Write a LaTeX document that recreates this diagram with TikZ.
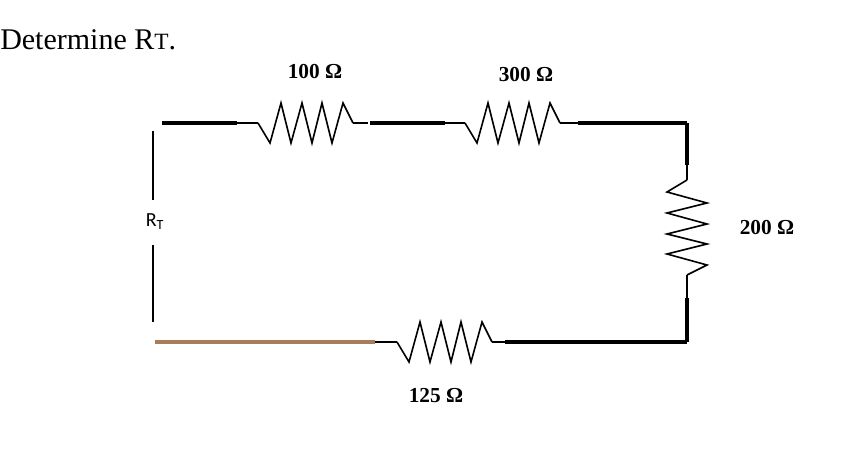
\documentclass[tikz,border=0pt]{standalone}
\usepackage{fontspec}
\setmainfont{Liberation Serif}
\newfontfamily\calfont{Carlito}
\tikzset{
 thick wire/.style={line width=3.2pt},
 thin wire/.style={line width=1.2pt},
 zig/.style={line width=1.2pt,line join=miter},
 val/.style={font=\bfseries\fontsize{16}{18}\selectfont}
}
\newcommand{\hres}[1]{\draw[zig] (#1) -- ++(12,20) -- ++(11,-40) -- ++(10,40) -- ++(11,-40) -- ++(10,40) -- ++(10,-40) -- ++(10,40) -- ++(11,-40) -- ++(10,20);}
\begin{document}
\begin{tikzpicture}[x=0.75pt,y=-0.75pt]
\useasboundingbox (0,0) rectangle (850,452);
\node[anchor=west,font=\fontsize{22.5}{24}\selectfont,inner sep=0pt] (title) at (0,40) {Determine R{\fontsize{17.5}{19}\selectfont T}.};
% left terminal
\coordinate (lt1) at (153,131); \coordinate (lt2) at (153,200);
\coordinate (lb1) at (153,245); \coordinate (lb2) at (153,322);
\draw[line width=1.5pt] (lt1)--(lt2) (lb1)--(lb2);
\node[font=\calfont\fontsize{15}{16}\selectfont] (rt) at (155,222) {R\textsubscript{T}};
% top wire
\coordinate (a0) at (162,123); \coordinate (a1) at (237,123); \coordinate (a2) at (258,123);
\coordinate (a3) at (353,123); \coordinate (a4) at (368,123); \coordinate (a5) at (370,123);
\coordinate (a6) at (445,123); \coordinate (a7) at (465,123); \coordinate (a8) at (560,123);
\coordinate (a9) at (578,123); \coordinate (c1) at (687,123);
\draw[thick wire] (a0)--(a1) (a5)--(a6) (a9)--(c1);
\draw[thin wire] (a1)--(a2) (a3)--(a4) (a6)--(a7) (a8)--(a9);
\hres{a2} \hres{a7}
\node[val] (r100) at (315,72) {100 Ω};
\node[val] (r300) at (526,75) {300 Ω};
% right side
\coordinate (b1) at (687,165); \coordinate (b2) at (687,180); \coordinate (b3) at (687,275);
\coordinate (b4) at (687,298); \coordinate (c2) at (687,342);
\draw[thick wire] (c1)--(b1) (b4)--(c2);
\draw[thin wire] (b1)--(b2) (b3)--(b4);
\draw[zig] (b2) -- ++(-20,12) -- ++(40,11) -- ++(-40,10) -- ++(40,11) -- ++(-40,10) -- ++(40,10) -- ++(-40,10) -- ++(40,11) -- ++(-20,10);
\node[val] (r200) at (767,228) {200 Ω};
% bottom
\coordinate (d0) at (155,342); \coordinate (d1) at (375,342); \coordinate (d2) at (397,342);
\coordinate (d3) at (492,342); \coordinate (d4) at (505,342);
\draw[line width=3.2pt,color={rgb,255:red,166;green,124;blue,90}] (d0)--(d1);
\draw[thin wire] (d1)--(d2) (d3)--(d4);
\hres{d2}
\draw[thick wire] (d4)--(c2);
\node[val] (r125) at (436,396) {125 Ω};
\end{tikzpicture}
\end{document}
